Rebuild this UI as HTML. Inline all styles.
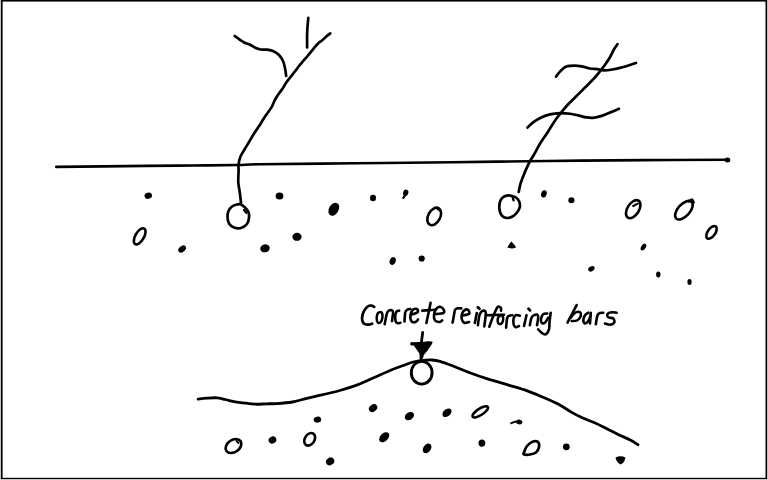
<!DOCTYPE html>
<html><head><meta charset="utf-8"><style>
html,body{margin:0;padding:0;background:#c4c4c4;width:768px;height:480px;overflow:hidden;font-family:"Liberation Sans",sans-serif;}
svg{display:block}
</style></head><body>
<svg width="768" height="480" viewBox="0 0 768 480">
<defs><filter id="b" x="-5%" y="-5%" width="110%" height="110%"><feGaussianBlur stdDeviation="0.30"/></filter></defs>
<rect x="1" y="0" width="766" height="479" fill="#000"/>
<rect x="2.6" y="1.6" width="762.9" height="476.2" fill="#fff"/>
<g filter="url(#b)">
<g fill="none" stroke="#000" stroke-linecap="round" stroke-linejoin="round">
<path d="M56.25 166.90C71.21 166.73 123.38 166.13 146.00 165.90C168.62 165.67 176.67 165.65 192.00 165.50C207.33 165.35 226.67 165.21 238.00 165.00C249.33 164.79 240.33 164.54 260.00 164.25C279.67 163.96 324.00 163.58 356.00 163.25C388.00 162.92 420.00 162.62 452.00 162.25C484.00 161.88 516.00 161.36 548.00 161.00C580.00 160.64 614.17 160.31 644.00 160.10C673.83 159.89 713.17 159.81 727.00 159.75" stroke-width="2.60"/>
<path d="M330.20 33.40C329.50 33.97 327.37 35.62 326.00 36.80C324.63 37.98 323.27 39.43 322.00 40.50C320.73 41.57 319.62 42.08 318.40 43.20C317.18 44.32 315.82 45.90 314.70 47.20C313.58 48.50 312.82 49.62 311.70 51.00C310.58 52.38 309.37 53.88 308.00 55.50C306.63 57.12 305.00 58.95 303.50 60.70C302.00 62.45 300.37 64.28 299.00 66.00C297.63 67.72 296.70 69.18 295.30 71.00C293.90 72.82 292.11 74.98 290.60 76.90C289.09 78.82 287.60 80.53 286.25 82.50C284.90 84.47 283.75 86.88 282.50 88.75C281.25 90.62 280.00 91.92 278.75 93.75C277.50 95.58 276.14 97.61 275.00 99.75C273.86 101.89 273.05 104.52 271.90 106.60C270.75 108.68 269.46 110.27 268.10 112.25C266.74 114.23 265.10 116.42 263.75 118.50C262.40 120.58 261.59 122.28 260.00 124.75C258.41 127.22 256.00 130.48 254.20 133.30C252.40 136.12 250.87 138.92 249.20 141.70C247.53 144.48 245.67 147.50 244.20 150.00C242.73 152.50 241.35 154.25 240.40 156.70C239.45 159.15 238.80 162.48 238.50 164.70C238.20 166.92 238.62 168.12 238.60 170.00C238.58 171.88 238.45 173.88 238.40 176.00C238.35 178.12 238.13 180.37 238.30 182.70C238.47 185.03 239.12 188.12 239.40 190.00C239.68 191.88 239.73 191.83 240.00 194.00C240.27 196.17 240.83 201.50 241.00 203.00" stroke-width="2.70"/>
<path d="M234.70 36.00C235.47 36.55 237.63 38.18 239.30 39.30C240.97 40.42 242.92 41.80 244.70 42.70C246.48 43.60 248.23 43.87 250.00 44.70C251.77 45.53 253.52 46.90 255.30 47.70C257.08 48.50 258.70 49.17 260.70 49.50C262.70 49.83 265.08 49.37 267.30 49.70C269.52 50.03 272.05 50.62 274.00 51.50C275.95 52.38 277.50 53.42 279.00 55.00C280.50 56.58 282.00 58.83 283.00 61.00C284.00 63.17 284.47 65.50 285.00 68.00C285.53 70.50 286.00 74.67 286.20 76.00" stroke-width="2.70"/>
<path d="M308.30 17.90C308.17 19.37 307.70 23.85 307.50 26.70C307.30 29.55 307.17 31.53 307.10 35.00C307.03 38.47 307.10 45.42 307.10 47.50" stroke-width="2.70"/>
<path d="M241.00 204.50C242.33 205.00 243.75 206.25 245.00 207.50C246.25 208.75 247.83 210.25 248.50 212.00C249.17 213.75 249.25 216.00 249.00 218.00C248.75 220.00 248.33 222.33 247.00 224.00C245.67 225.67 243.17 227.42 241.00 228.00C238.83 228.58 236.00 228.25 234.00 227.50C232.00 226.75 230.08 225.25 229.00 223.50C227.92 221.75 227.58 219.08 227.50 217.00C227.42 214.92 227.75 212.75 228.50 211.00C229.25 209.25 230.58 207.58 232.00 206.50C233.42 205.42 235.50 204.83 237.00 204.50C238.50 204.17 239.67 204.00 241.00 204.50Z" stroke-width="2.70"/>
<path d="M244.00 210.00L246.50 213.00" stroke-width="2.20"/>
<path d="M617.50 44.10C616.88 45.04 615.00 47.56 613.75 49.75C612.50 51.94 611.46 54.75 610.00 57.25C608.54 59.75 606.46 62.67 605.00 64.75C603.54 66.83 602.71 67.88 601.25 69.75C599.79 71.62 597.71 74.29 596.25 76.00C594.79 77.71 594.38 78.08 592.50 80.00C590.62 81.92 587.71 84.79 585.00 87.50C582.29 90.21 579.17 93.33 576.25 96.25C573.33 99.17 570.00 102.29 567.50 105.00C565.00 107.71 563.12 110.21 561.25 112.50C559.38 114.79 558.02 116.25 556.25 118.75C554.48 121.25 552.06 125.21 550.60 127.50C549.14 129.79 549.27 129.79 547.50 132.50C545.73 135.21 542.29 140.00 540.00 143.75C537.71 147.50 535.32 152.29 533.75 155.00C532.18 157.71 531.79 157.82 530.60 160.00C529.41 162.18 527.83 165.38 526.60 168.10C525.37 170.82 524.22 173.70 523.20 176.30C522.18 178.90 521.25 181.08 520.50 183.70C519.75 186.32 519.00 190.62 518.70 192.00" stroke-width="2.70"/>
<path d="M556.00 76.60C556.67 75.77 558.29 73.27 560.00 71.60C561.71 69.93 563.75 67.60 566.25 66.60C568.75 65.60 572.29 65.60 575.00 65.60C577.71 65.60 580.00 66.12 582.50 66.60C585.00 67.08 587.50 68.08 590.00 68.50C592.50 68.92 595.21 68.78 597.50 69.10C599.79 69.42 601.25 70.33 603.75 70.40C606.25 70.47 609.38 70.03 612.50 69.50C615.62 68.97 619.58 68.00 622.50 67.25C625.42 66.50 627.75 65.72 630.00 65.00C632.25 64.28 635.00 63.25 636.00 62.90" stroke-width="2.70"/>
<path d="M527.50 127.50C528.54 126.57 531.46 123.57 533.75 121.90C536.04 120.23 538.54 118.75 541.25 117.50C543.96 116.25 546.88 115.13 550.00 114.40C553.12 113.67 556.67 113.21 560.00 113.10C563.33 112.99 566.88 113.33 570.00 113.75C573.12 114.17 576.08 115.01 578.75 115.60C581.42 116.19 583.62 116.93 586.00 117.30C588.38 117.67 590.25 118.08 593.00 117.80C595.75 117.52 599.67 116.47 602.50 115.60C605.33 114.73 607.25 113.73 610.00 112.60C612.75 111.47 617.50 109.43 619.00 108.80" stroke-width="2.70"/>
<path d="M508.50 195.30C507.08 195.43 504.83 195.93 503.50 196.80C502.17 197.67 501.20 198.97 500.50 200.50C499.80 202.03 499.38 204.08 499.30 206.00C499.22 207.92 499.47 210.28 500.00 212.00C500.53 213.72 501.33 215.30 502.50 216.30C503.67 217.30 505.33 217.97 507.00 218.00C508.67 218.03 510.83 217.42 512.50 216.50C514.17 215.58 515.78 214.08 517.00 212.50C518.22 210.92 519.47 208.92 519.80 207.00C520.13 205.08 519.63 202.58 519.00 201.00C518.37 199.42 517.17 198.33 516.00 197.50C514.83 196.67 513.25 196.37 512.00 196.00C510.75 195.63 509.92 195.17 508.50 195.30Z" stroke-width="2.70"/>
<path d="M512.50 196.80L513.60 200.30" stroke-width="2.30"/>
<path d="M406.00 194.00L403.30 197.80" stroke-width="2.20"/>
<path d="M437.00 208.50L439.50 210.50" stroke-width="2.00"/>
<path d="M633.20 206.00L637.80 203.60" stroke-width="2.00"/>
<path d="M688.50 201.50C689.08 201.13 691.12 199.13 692.00 199.30C692.88 199.47 693.50 201.97 693.80 202.50" stroke-width="2.20"/>
<path d="M422.70 332.40C422.60 333.17 422.33 335.23 422.10 337.00C421.87 338.77 421.43 342.00 421.30 343.00" stroke-width="2.80"/>
<path d="M420.80 357.00L420.90 360.50" stroke-width="2.40"/>
<path d="M198.10 399.10C199.58 398.93 203.85 398.32 207.00 398.10C210.15 397.88 214.00 397.57 217.00 397.80C220.00 398.03 222.17 398.87 225.00 399.50C227.83 400.13 231.00 401.05 234.00 401.60C237.00 402.15 239.43 402.37 243.00 402.80C246.57 403.23 251.43 404.03 255.40 404.20C259.37 404.37 263.37 403.90 266.80 403.80C270.23 403.70 271.75 403.90 276.00 403.60C280.25 403.30 287.32 402.83 292.30 402.00C297.28 401.17 300.82 399.82 305.90 398.60C310.98 397.38 317.15 396.05 322.80 394.70C328.45 393.35 334.15 392.10 339.80 390.50C345.45 388.90 351.05 387.22 356.70 385.10C362.35 382.98 368.05 380.28 373.70 377.80C379.35 375.32 385.55 372.28 390.60 370.20C395.65 368.12 400.22 366.67 404.00 365.30C407.78 363.93 410.18 362.82 413.30 362.00C416.42 361.18 419.58 360.73 422.70 360.40C425.82 360.07 429.12 359.85 432.00 360.00C434.88 360.15 436.40 360.27 440.00 361.30C443.60 362.33 448.52 364.25 453.60 366.20C458.68 368.15 464.85 370.88 470.50 373.00C476.15 375.12 481.28 376.93 487.50 378.90C493.72 380.87 501.60 382.97 507.80 384.80C514.00 386.63 519.05 387.92 524.70 389.90C530.35 391.88 536.05 394.30 541.70 396.70C547.35 399.10 553.60 401.68 558.60 404.30C563.60 406.92 567.57 410.07 571.70 412.40C575.83 414.73 579.48 416.53 583.40 418.30C587.32 420.07 591.28 421.25 595.20 423.00C599.12 424.75 603.00 426.85 606.90 428.80C610.80 430.75 614.70 432.83 618.60 434.70C622.50 436.57 627.07 438.33 630.30 440.00C633.53 441.67 636.72 443.92 638.00 444.70" stroke-width="2.80"/>
<path d="M236.50 441.00L238.50 443.00" stroke-width="2.00"/>
<path d="M511.20 423.20C511.83 422.97 513.87 422.08 515.00 421.80C516.13 421.52 517.50 421.55 518.00 421.50" stroke-width="2.00"/>
<path d="M524.00 452.50C524.50 451.08 525.50 447.83 527.00 446.00C528.50 444.17 531.17 442.17 533.00 441.50C534.83 440.83 537.00 441.08 538.00 442.00C539.00 442.92 539.33 445.25 539.00 447.00C538.67 448.75 537.50 451.25 536.00 452.50C534.50 453.75 532.00 454.17 530.00 454.50C528.00 454.83 525.00 454.83 524.00 454.50C523.00 454.17 523.50 453.92 524.00 452.50Z" stroke-width="2.70"/>
<path d="M374.25 306.90C373.83 306.68 372.69 305.77 371.75 305.60C370.81 305.43 369.64 305.38 368.60 305.90C367.56 306.42 366.38 307.65 365.50 308.75C364.62 309.85 363.87 311.04 363.30 312.50C362.73 313.96 362.20 315.93 362.10 317.50C362.00 319.07 362.23 320.80 362.70 321.90C363.17 323.00 363.92 323.63 364.90 324.10C365.88 324.57 367.40 324.76 368.60 324.70C369.80 324.64 371.52 323.91 372.10 323.75" stroke-width="2.70"/>
<path d="M380.50 311.90C379.82 311.90 378.62 312.27 378.00 313.10C377.38 313.93 376.90 315.54 376.75 316.90C376.60 318.26 376.79 320.22 377.10 321.25C377.41 322.28 377.93 323.04 378.60 323.10C379.27 323.16 380.47 322.53 381.10 321.60C381.73 320.67 382.23 318.92 382.40 317.50C382.57 316.08 382.42 314.03 382.10 313.10C381.78 312.17 381.18 311.90 380.50 311.90Z" stroke-width="2.50"/>
<path d="M384.70 324.20C384.98 322.73 385.92 317.45 386.40 315.40C386.88 313.35 387.02 312.77 387.60 311.90C388.18 311.03 389.13 310.43 389.90 310.20C390.67 309.97 391.67 310.02 392.20 310.50C392.73 310.98 393.05 311.98 393.10 313.10C393.15 314.22 392.68 315.85 392.50 317.20C392.32 318.55 392.08 320.53 392.00 321.20" stroke-width="2.60"/>
<path d="M399.20 310.70C398.82 310.80 397.52 310.72 396.90 311.30C396.28 311.88 395.78 313.03 395.50 314.20C395.22 315.37 395.12 316.98 395.20 318.30C395.28 319.62 395.53 321.27 396.00 322.10C396.47 322.93 397.27 323.20 398.00 323.30C398.73 323.40 400.00 322.80 400.40 322.70" stroke-width="2.60"/>
<path d="M404.50 321.50C404.58 320.25 404.82 315.67 405.00 314.00C405.18 312.33 405.20 312.23 405.60 311.50C406.00 310.77 406.62 310.02 407.40 309.60C408.18 309.18 409.82 309.10 410.30 309.00" stroke-width="2.60"/>
<path d="M411.00 314.60C412.05 314.25 416.22 313.35 417.30 312.50C418.38 311.65 417.88 310.12 417.50 309.50C417.12 308.88 415.88 308.65 415.00 308.80C414.12 308.95 412.95 309.37 412.20 310.40C411.45 311.43 410.73 313.40 410.50 315.00C410.27 316.60 410.35 318.78 410.80 320.00C411.25 321.22 412.25 322.08 413.20 322.30C414.15 322.52 415.70 321.77 416.50 321.30C417.30 320.83 417.75 319.80 418.00 319.50" stroke-width="2.60"/>
<path d="M430.60 302.80C430.25 304.50 429.20 309.65 428.50 313.00C427.80 316.35 426.75 321.25 426.40 322.90" stroke-width="2.60"/>
<path d="M422.30 310.60L436.00 309.70" stroke-width="2.60"/>
<path d="M434.40 314.20C435.93 313.97 442.13 313.68 443.60 312.80C445.07 311.92 443.88 309.92 443.20 308.90C442.52 307.88 440.77 306.57 439.50 306.70C438.23 306.83 436.53 308.15 435.60 309.70C434.67 311.25 433.97 314.18 433.90 316.00C433.83 317.82 434.27 319.60 435.20 320.60C436.13 321.60 438.33 322.03 439.50 322.00C440.67 321.97 441.75 320.67 442.20 320.40" stroke-width="2.60"/>
<path d="M452.60 322.60C452.83 321.33 453.60 317.10 454.00 315.00C454.40 312.90 454.43 311.12 455.00 310.00C455.57 308.88 456.35 308.57 457.40 308.30C458.45 308.03 460.65 308.38 461.30 308.40" stroke-width="2.60"/>
<path d="M462.30 315.60C463.43 315.30 468.12 314.72 469.10 313.80C470.08 312.88 468.95 310.72 468.20 310.10C467.45 309.48 465.65 309.42 464.60 310.10C463.55 310.78 462.35 312.60 461.90 314.20C461.45 315.80 461.45 318.25 461.90 319.70C462.35 321.15 463.40 322.52 464.60 322.90C465.80 323.28 468.35 322.15 469.10 322.00" stroke-width="2.60"/>
<path d="M477.90 307.40L479.40 308.80" stroke-width="2.90"/>
<path d="M476.80 313.00L474.80 323.00" stroke-width="2.60"/>
<path d="M477.90 325.20C478.15 323.58 478.77 317.80 479.40 315.50C480.03 313.20 480.83 312.18 481.70 311.40C482.57 310.62 483.92 310.52 484.60 310.80C485.28 311.08 485.70 311.65 485.80 313.10C485.90 314.55 485.45 317.28 485.20 319.50C484.95 321.72 484.45 325.25 484.30 326.40" stroke-width="2.60"/>
<path d="M489.30 326.70C489.83 325.25 491.50 320.57 492.50 318.00C493.50 315.43 494.50 313.08 495.30 311.30C496.10 309.52 496.63 308.07 497.30 307.30C497.97 306.53 498.68 306.58 499.30 306.70C499.92 306.82 500.72 307.33 501.00 308.00C501.28 308.67 501.00 310.25 501.00 310.70" stroke-width="2.60"/>
<path d="M486.00 315.30C487.50 315.25 492.00 315.10 495.00 315.00C498.00 314.90 502.50 314.75 504.00 314.70" stroke-width="2.60"/>
<path d="M500.70 315.30C499.92 315.63 498.45 316.77 498.00 318.00C497.55 319.23 497.55 321.70 498.00 322.70C498.45 323.70 499.87 324.33 500.70 324.00C501.53 323.67 502.67 322.03 503.00 320.70C503.33 319.37 503.08 316.90 502.70 316.00C502.32 315.10 501.48 314.97 500.70 315.30Z" stroke-width="2.50"/>
<path d="M506.10 327.70C506.30 326.03 506.68 319.72 507.30 317.70C507.92 315.68 508.97 316.02 509.80 315.60C510.63 315.18 511.88 315.27 512.30 315.20" stroke-width="2.60"/>
<path d="M519.80 315.60C519.12 315.53 516.73 314.72 515.70 315.20C514.67 315.68 513.95 316.98 513.60 318.50C513.25 320.02 513.25 322.83 513.60 324.30C513.95 325.77 514.80 327.02 515.70 327.30C516.60 327.58 518.45 326.22 519.00 326.00" stroke-width="2.60"/>
<path d="M528.50 308.70L530.00 310.40" stroke-width="2.80"/>
<path d="M526.50 315.20L524.00 326.00" stroke-width="2.60"/>
<path d="M529.80 325.20C530.08 323.95 530.80 319.37 531.50 317.70C532.20 316.03 533.03 315.70 534.00 315.20C534.97 314.70 536.60 314.28 537.30 314.70C538.00 315.12 538.25 315.95 538.20 317.70C538.15 319.45 537.20 323.95 537.00 325.20" stroke-width="2.60"/>
<path d="M547.30 313.50C546.62 313.63 544.23 313.47 543.20 314.30C542.17 315.13 541.38 317.10 541.10 318.50C540.82 319.90 540.88 322.00 541.50 322.70C542.12 323.40 543.68 323.53 544.80 322.70C545.92 321.87 547.63 318.53 548.20 317.70" stroke-width="2.60"/>
<path d="M550.70 312.70C550.50 314.25 549.78 319.23 549.50 322.00C549.22 324.77 549.63 327.25 549.00 329.30C548.37 331.35 546.95 333.73 545.70 334.30C544.45 334.87 542.75 333.53 541.50 332.70C540.25 331.87 538.75 329.87 538.20 329.30" stroke-width="2.60"/>
<path d="M576.70 305.20C575.92 306.67 573.53 311.08 572.00 314.00C570.47 316.92 568.25 321.25 567.50 322.70" stroke-width="2.60"/>
<path d="M570.80 317.70C571.37 317.00 572.95 314.48 574.20 313.50C575.45 312.52 577.20 311.80 578.30 311.80C579.40 311.80 580.52 312.52 580.80 313.50C581.08 314.48 580.68 316.52 580.00 317.70C579.32 318.88 578.08 320.05 576.70 320.60C575.32 321.15 572.53 320.93 571.70 321.00" stroke-width="2.60"/>
<path d="M588.30 312.70C587.75 313.12 585.83 313.95 585.00 315.20C584.17 316.45 583.30 318.82 583.30 320.20C583.30 321.58 584.17 323.37 585.00 323.50C585.83 323.63 587.33 322.38 588.30 321.00C589.27 319.62 590.38 316.17 590.80 315.20" stroke-width="2.60"/>
<path d="M590.80 312.70L590.00 323.50" stroke-width="2.60"/>
<path d="M595.80 324.30C596.08 322.78 596.80 317.08 597.50 315.20C598.20 313.32 599.03 313.42 600.00 313.00C600.97 312.58 602.75 312.75 603.30 312.70" stroke-width="2.60"/>
<path d="M616.70 312.70C615.87 312.63 613.23 312.10 611.70 312.30C610.17 312.50 608.07 313.07 607.50 313.90C606.93 314.73 607.33 316.53 608.30 317.30C609.27 318.07 612.32 317.60 613.30 318.50C614.28 319.40 614.75 321.65 614.20 322.70C613.65 323.75 611.53 324.67 610.00 324.80C608.47 324.93 605.83 323.72 605.00 323.50" stroke-width="2.60"/>
</g>
<g fill="#000">
<ellipse cx="727.50" cy="160.00" rx="2.80" ry="2.50" transform="rotate(0.0 727.50 160.00)"/>
<ellipse cx="148.30" cy="195.70" rx="3.80" ry="3.10" transform="rotate(-20.0 148.30 195.70)"/>
<ellipse cx="139.70" cy="236.30" rx="4.30" ry="9.00" transform="rotate(30.0 139.70 236.30)" fill="none" stroke="#000" stroke-width="2.60"/>
<ellipse cx="182.10" cy="249.00" rx="4.40" ry="2.90" transform="rotate(-40.0 182.10 249.00)"/>
<ellipse cx="279.50" cy="196.00" rx="3.90" ry="3.50" transform="rotate(0.0 279.50 196.00)"/>
<ellipse cx="333.80" cy="209.20" rx="4.80" ry="7.00" transform="rotate(30.0 333.80 209.20)"/>
<ellipse cx="297.00" cy="236.80" rx="4.60" ry="4.00" transform="rotate(0.0 297.00 236.80)"/>
<ellipse cx="265.00" cy="248.30" rx="4.80" ry="4.00" transform="rotate(-15.0 265.00 248.30)"/>
<ellipse cx="373.00" cy="198.00" rx="3.00" ry="3.20" transform="rotate(0.0 373.00 198.00)"/>
<ellipse cx="405.70" cy="192.80" rx="2.60" ry="3.20" transform="rotate(20.0 405.70 192.80)"/>
<ellipse cx="434.20" cy="216.40" rx="6.00" ry="9.40" transform="rotate(28.0 434.20 216.40)" fill="none" stroke="#000" stroke-width="2.60"/>
<ellipse cx="543.90" cy="193.90" rx="2.80" ry="3.70" transform="rotate(15.0 543.90 193.90)"/>
<ellipse cx="571.40" cy="200.30" rx="3.10" ry="3.00" transform="rotate(0.0 571.40 200.30)"/>
<path d="M507.3 247.6 Q509 244 511.3 241.6 Q513.5 243.5 516.2 247.2 Q512 249.4 507.3 247.6 Z"/>
<ellipse cx="392.70" cy="261.00" rx="3.00" ry="4.00" transform="rotate(20.0 392.70 261.00)"/>
<ellipse cx="421.70" cy="258.50" rx="3.10" ry="3.10" transform="rotate(0.0 421.70 258.50)"/>
<ellipse cx="633.20" cy="209.20" rx="5.80" ry="10.00" transform="rotate(32.0 633.20 209.20)" fill="none" stroke="#000" stroke-width="2.60"/>
<ellipse cx="683.90" cy="210.20" rx="6.00" ry="11.30" transform="rotate(42.0 683.90 210.20)" fill="none" stroke="#000" stroke-width="2.60"/>
<ellipse cx="711.50" cy="232.40" rx="3.80" ry="7.30" transform="rotate(35.0 711.50 232.40)" fill="none" stroke="#000" stroke-width="2.60"/>
<ellipse cx="643.50" cy="247.00" rx="2.20" ry="3.80" transform="rotate(35.0 643.50 247.00)"/>
<ellipse cx="591.40" cy="268.80" rx="3.40" ry="2.40" transform="rotate(-30.0 591.40 268.80)"/>
<ellipse cx="658.30" cy="274.50" rx="2.20" ry="2.90" transform="rotate(0.0 658.30 274.50)"/>
<ellipse cx="689.50" cy="282.00" rx="2.10" ry="2.90" transform="rotate(0.0 689.50 282.00)"/>
<path d="M410.2 343.2 Q409.6 345.2 411.6 345.5 L413.8 345.6 L416.6 349.5 L419.3 353.6 L420.2 358.6 L423 358.6 L423.8 355 L427.4 350.7 L430.9 345.8 Q432.6 343.5 432.6 341.8 Q431 340.9 428 341.3 L424 341.7 L413.2 342.2 Q410.9 341.8 410.2 343.2 Z"/>
<ellipse cx="421.70" cy="372.70" rx="10.40" ry="11.40" transform="rotate(0.0 421.70 372.70)" fill="none" stroke="#000" stroke-width="2.90"/>
<ellipse cx="233.50" cy="446.00" rx="8.60" ry="6.10" transform="rotate(-35.0 233.50 446.00)" fill="none" stroke="#000" stroke-width="2.70"/>
<ellipse cx="272.50" cy="440.00" rx="4.00" ry="3.40" transform="rotate(-30.0 272.50 440.00)"/>
<ellipse cx="309.70" cy="439.30" rx="4.80" ry="6.80" transform="rotate(32.0 309.70 439.30)" fill="none" stroke="#000" stroke-width="2.60"/>
<ellipse cx="317.40" cy="419.60" rx="3.80" ry="3.00" transform="rotate(-10.0 317.40 419.60)"/>
<ellipse cx="330.10" cy="461.40" rx="4.30" ry="3.70" transform="rotate(-30.0 330.10 461.40)"/>
<ellipse cx="373.10" cy="408.10" rx="4.50" ry="3.40" transform="rotate(-35.0 373.10 408.10)"/>
<ellipse cx="409.40" cy="416.10" rx="5.00" ry="3.70" transform="rotate(-35.0 409.40 416.10)"/>
<ellipse cx="447.00" cy="412.80" rx="5.20" ry="3.50" transform="rotate(-40.0 447.00 412.80)"/>
<ellipse cx="384.20" cy="437.30" rx="6.00" ry="3.90" transform="rotate(-45.0 384.20 437.30)"/>
<ellipse cx="427.10" cy="448.30" rx="5.40" ry="3.70" transform="rotate(-55.0 427.10 448.30)"/>
<ellipse cx="480.30" cy="411.80" rx="9.00" ry="3.20" transform="rotate(-33.0 480.30 411.80)" fill="none" stroke="#000" stroke-width="2.60"/>
<ellipse cx="519.30" cy="422.00" rx="3.10" ry="2.40" transform="rotate(10.0 519.30 422.00)"/>
<ellipse cx="481.90" cy="443.10" rx="3.40" ry="3.60" transform="rotate(0.0 481.90 443.10)"/>
<ellipse cx="566.30" cy="446.80" rx="3.40" ry="3.40" transform="rotate(0.0 566.30 446.80)"/>
<path d="M615.5 457.5 Q620.5 455 625.5 457.5 Q624.5 463 620.5 464.5 Q616.5 462.5 615.5 457.5 Z"/>
</g>
</g>
</svg>
</body></html>
